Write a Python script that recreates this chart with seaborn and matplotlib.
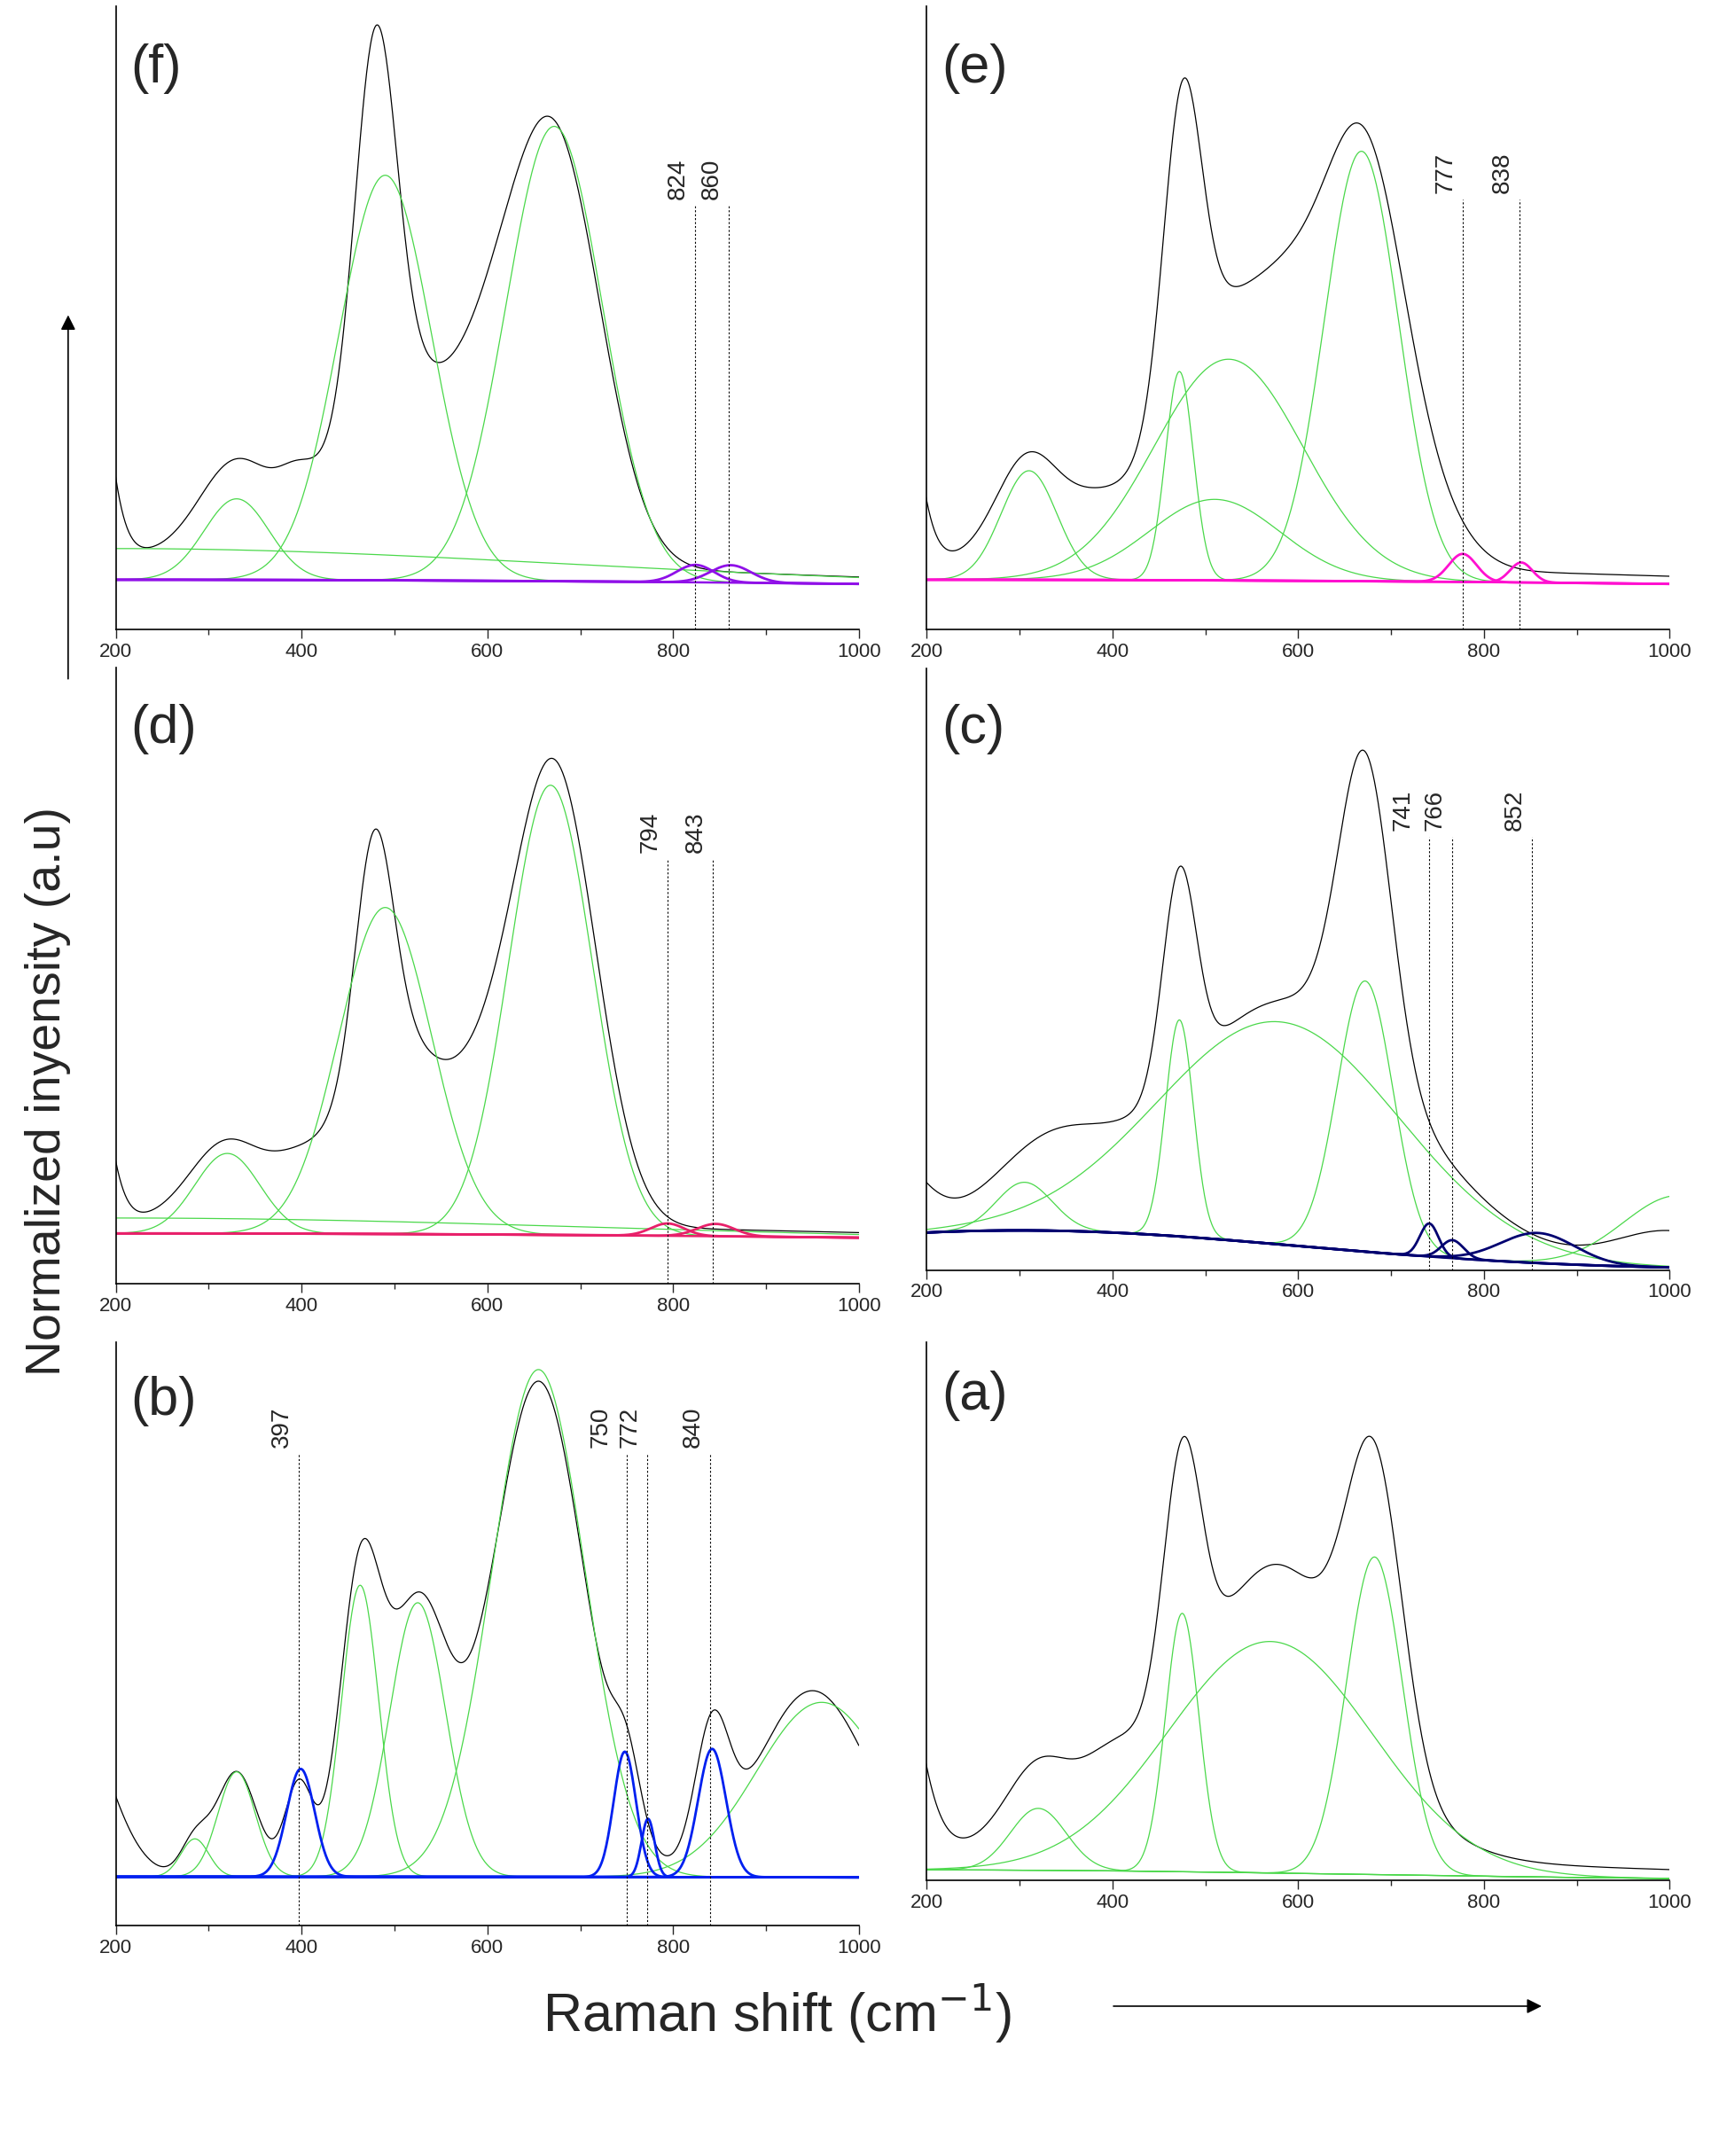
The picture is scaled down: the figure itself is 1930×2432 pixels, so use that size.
"""Raman spectra with fitted peak components, six panels."""

import matplotlib

matplotlib.use("Agg")
import matplotlib.pyplot as plt
import numpy as np
import seaborn as sns

RAMAN_X = np.arange(150, 1001, 1.0)

# each peak is (center, height, sigma); curves are gaussian sums
PANEL_NAMES = ["(f)", "(e)", "(d)", "(c)", "(b)", "(a)"]

BASELINE_F = (200, 0.08, 1900)
GREEN_F = [(330, 0.13, 35), (490, 0.65, 50), (672, 0.73, 52), (200, 0.05, 450)]
COLORED_F = [(824, 0.028, 20), (862, 0.028, 22)]
BLACK_F = [(150, 0.9, 25), (330, 0.15, 40), (395, 0.05, 20), (480, 0.57, 22), (500, 0.3, 60),
           (672, 0.68, 50), (600, 0.15, 40), (200, 0.04, 500)]
LINES_F = [824, 860]

BASELINE_E = (200, 0.08, 1900)
GREEN_E = [(310, 0.175, 30), (472, 0.335, 15), (525, 0.355, 80), (510, 0.13, 70), (668, 0.69, 40)]
COLORED_E = [(777, 0.045, 15), (840, 0.032, 12)]
BLACK_E = [(150, 0.7, 25), (310, 0.17, 35), (380, 0.06, 30), (475, 0.45, 20), (510, 0.38, 60),
           (670, 0.66, 45), (590, 0.22, 40), (750, 0.05, 40), (200, 0.03, 600)]
LINES_E = [777, 838]

BASELINE_D = (200, 0.082, 1900)
GREEN_D = [(320, 0.13, 35), (490, 0.53, 50), (668, 0.73, 45), (200, 0.025, 450)]
COLORED_D = [(794, 0.02, 18), (846, 0.02, 20)]
BLACK_D = [(150, 0.7, 25), (320, 0.13, 40), (395, 0.06, 30), (478, 0.35, 20), (495, 0.3, 50),
           (672, 0.74, 45), (590, 0.14, 40), (200, 0.02, 600)]
LINES_D = [794, 843]

BASELINE_C = (300, 0.066, 300)
GREEN_C = [(305, 0.08, 30), (472, 0.36, 15), (580, 0.37, 130), (672, 0.45, 30), (1010, 0.12, 60)]
COLORED_C = [(741, 0.055, 10), (766, 0.03, 12), (858, 0.05, 40)]
BLACK_C = [(150, 0.15, 40), (330, 0.12, 60), (472, 0.35, 18), (580, 0.38, 120), (672, 0.5, 28),
           (1000, 0.06, 60), (700, 0.05, 100)]
LINES_C = [741, 766, 852]

BASELINE_B = (200, 0.084, 5000)
GREEN_B = [(285, 0.065, 15), (330, 0.18, 20), (463, 0.5, 20), (525, 0.47, 30), (655, 0.87, 50),
           (960, 0.3, 70)]
COLORED_B = [(399, 0.185, 15), (748, 0.215, 12), (773, 0.1, 7), (842, 0.22, 15)]
BLACK_B = [(150, 0.3, 40), (285, 0.06, 15), (330, 0.18, 22), (397, 0.16, 15), (463, 0.5, 22),
           (525, 0.45, 32), (655, 0.85, 50), (750, 0.12, 15), (842, 0.22, 18), (950, 0.32, 60)]
LINES_B = [397, 750, 772, 840]

BASELINE_A = (200, 0.02, 450)
GREEN_A = [(320, 0.115, 30), (475, 0.48, 18), (570, 0.43, 110), (682, 0.59, 30)]
COLORED_A = []
BLACK_A = [(150, 0.6, 30), (320, 0.14, 35), (395, 0.07, 30), (475, 0.45, 20), (560, 0.45, 100),
           (682, 0.55, 30), (590, 0.1, 45), (200, 0.04, 600)]
LINES_A = []

PANELS = [
    (BASELINE_F, GREEN_F, COLORED_F, BLACK_F, LINES_F, "#9010e8"),
    (BASELINE_E, GREEN_E, COLORED_E, BLACK_E, LINES_E, "#ff10d0"),
    (BASELINE_D, GREEN_D, COLORED_D, BLACK_D, LINES_D, "#e8206a"),
    (BASELINE_C, GREEN_C, COLORED_C, BLACK_C, LINES_C, "#000070"),
    (BASELINE_B, GREEN_B, COLORED_B, BLACK_B, LINES_B, "#0020f0"),
    (BASELINE_A, GREEN_A, COLORED_A, BLACK_A, LINES_A, "#4ad84a"),
]
# line top heights (axes fraction) for the dotted markers
LINE_TOPS = [0.68, 0.69, 0.69, 0.72, 0.81, 0.0]

# axes rectangles in figure fractions
AXES_RECTS = [
    [0.0677, 0.708, 0.434, 0.289],
    [0.5414, 0.708, 0.434, 0.289],
    [0.0677, 0.4045, 0.434, 0.2857],
    [0.5414, 0.4109, 0.434, 0.279],
    [0.0677, 0.1068, 0.434, 0.2705],
    [0.5414, 0.1277, 0.434, 0.2497],
]

GREEN = "#4ad84a"

sns.set_style("ticks")
plt.rcParams["font.family"] = ["Liberation Sans", "DejaVu Sans"]


def gauss(peak):
    center, height, sigma = peak
    return height * np.exp(-((RAMAN_X - center) ** 2) / (2 * sigma**2))


fig = plt.figure(figsize=(19.31, 24.32), dpi=100)

for name, rect, panel, top in zip(PANEL_NAMES, AXES_RECTS, PANELS, LINE_TOPS):
    baseline, greens, colored, blacks, lines, color = panel
    ax = fig.add_axes(rect)
    base = gauss(baseline)
    black = base + sum(gauss(p) for p in blacks)
    sns.lineplot(x=RAMAN_X, y=black, ax=ax, color="black", linewidth=0.9)
    for peak in greens:
        sns.lineplot(x=RAMAN_X, y=base + gauss(peak), ax=ax, color=GREEN, linewidth=0.9)
    sns.lineplot(x=RAMAN_X, y=base, ax=ax, color=color, linewidth=1.8 if colored else 0.9)
    for peak in colored:
        sns.lineplot(x=RAMAN_X, y=base + gauss(peak), ax=ax, color=color, linewidth=2.0)
    for i, pos in enumerate(lines):
        ax.axvline(pos, ymin=0, ymax=top, color="black", linestyle=(0, (2, 2)), linewidth=0.8)
        crowded = i + 1 < len(lines) and lines[i + 1] - pos < 30
        ax.text(pos - (16 if crowded else 6), top + 0.01, str(pos), rotation=90, ha="right",
                va="bottom", fontsize=20, transform=ax.get_xaxis_transform())
    ax.set_xlim(200, 1000)
    ax.set_ylim(0, 1)
    ax.set_yticks([])
    ax.set_xticks([200, 400, 600, 800, 1000])
    ax.set_xticks([300, 500, 700, 900], minor=True)
    ax.tick_params(axis="x", labelsize=16, length=7, width=1, direction="out")
    ax.tick_params(axis="x", which="minor", length=4, width=1)
    ax.set_xlabel("")
    ax.set_ylabel("")
    for side in ("top", "right"):
        ax.spines[side].set_visible(False)
    for side in ("left", "bottom"):
        ax.spines[side].set_linewidth(1.2)
        ax.spines[side].set_color("black")
    ax.text(0.02, 0.9, name, transform=ax.transAxes, fontsize=44, ha="left", va="center")

fig.text(0.028, 0.494, "Normalized inyensity (a.u)", rotation=90, fontsize=40,
         ha="center", va="center")
fig.text(0.454, 0.066, "Raman shift (cm$^{-1}$)", fontsize=44, ha="center", va="center")
fig.add_artist(matplotlib.patches.FancyArrowPatch(
    (0.0398, 0.684), (0.0398, 0.855), transform=fig.transFigure,
    arrowstyle="-|>", mutation_scale=25, color="black", linewidth=1.2))
fig.add_artist(matplotlib.patches.FancyArrowPatch(
    (0.649, 0.0695), (0.902, 0.0695), transform=fig.transFigure,
    arrowstyle="-|>", mutation_scale=25, color="black", linewidth=1.2))

fig.savefig("out.png", dpi=100)
